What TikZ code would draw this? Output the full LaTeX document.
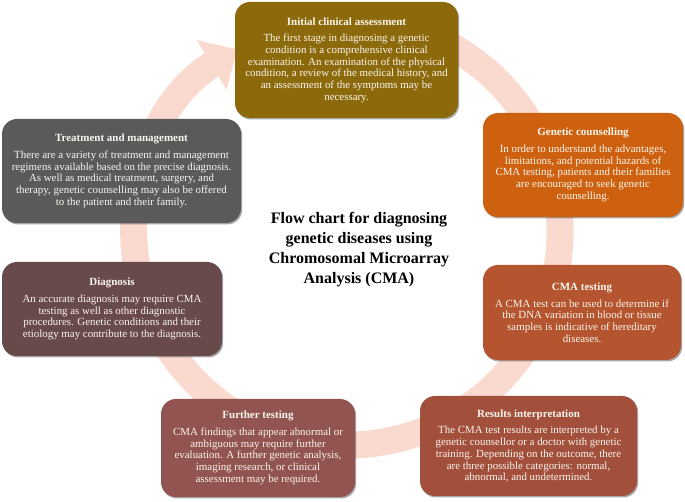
\documentclass[tikz,border=0pt]{standalone}
\usepackage{fontspec}
\setmainfont{Liberation Serif}
\usetikzlibrary{arrows.meta,shadows,calc}
\definecolor{cInit}{RGB}{140,106,12}
\definecolor{cGen}{RGB}{206,97,16}
\definecolor{cCma}{RGB}{180,85,47}
\definecolor{cRes}{RGB}{162,79,60}
\definecolor{cFur}{RGB}{146,84,80}
\definecolor{cDia}{RGB}{104,74,74}
\definecolor{cTre}{RGB}{90,90,90}
\definecolor{ringpink}{RGB}{250,217,207}
\definecolor{txtw}{RGB}{250,246,238}
\tikzset{
  stagebox/.style={rounded corners=15pt, text=txtw, align=center, inner sep=0pt,
    font=\fontsize{10.9}{11.7}\selectfont,
    drop shadow={shadow xshift=1.2pt, shadow yshift=-1.5pt, opacity=0.35, fill=black}},
  ringarrow/.style={draw=ringpink, line width=27pt, -{Triangle[width=56pt,length=30pt]}},
}
\newcommand{\stagetitle}[1]{{\fontsize{11}{12}\selectfont\bfseries #1}}
\begin{document}
\begin{tikzpicture}[x=1pt,y=1pt]
\useasboundingbox (0,0) rectangle (685,502);
\coordinate (C) at (347,270);
\coordinate (ringstart) at ($(C)+(110:213pt)$);
\draw[ringarrow] (ringstart) arc[start angle=110, end angle=-239, radius=213pt];

\node[stagebox, fill=cInit, minimum width=223pt, minimum height=116pt] (init) at (346.5,442)
 {\stagetitle{Initial clinical assessment}\\[5pt]
  The first stage in diagnosing a genetic\\
  condition is a comprehensive clinical\\
  examination. An examination of the physical\\
  condition, a review of the medical history, and\\
  an assessment of the symptoms may be\\
  necessary.};
\node[stagebox, fill=cGen, minimum width=200pt, minimum height=104pt] (gen) at (583,337)
 {\stagetitle{Genetic counselling}\\[5pt]
  In order to understand the advantages,\\
  limitations, and potential hazards of\\
  CMA testing, patients and their families\\
  are encouraged to seek genetic\\
  counselling.};
\node[stagebox, fill=cCma, minimum width=198pt, minimum height=95pt] (cma) at (582,189.5)
 {\stagetitle{CMA testing}\\[5pt]
  A CMA test can be used to determine if\\
  the DNA variation in blood or tissue\\
  samples is indicative of hereditary\\
  diseases.};
\node[stagebox, fill=cRes, minimum width=217pt, minimum height=100pt] (res) at (528.5,56)
 {\stagetitle{Results interpretation}\\[5pt]
  The CMA test results are interpreted by a\\
  genetic counsellor or a doctor with genetic\\
  training. Depending on the outcome, there\\
  are three possible categories: normal,\\
  abnormal, and undetermined.};
\node[stagebox, fill=cFur, minimum width=194pt, minimum height=98pt] (fur) at (258,54)
 {\stagetitle{Further testing}\\[5pt]
  CMA findings that appear abnormal or\\
  ambiguous may require further\\
  evaluation. A further genetic analysis,\\
  imaging research, or clinical\\
  assessment may be required.};
\node[stagebox, fill=cDia, minimum width=220pt, minimum height=94pt] (dia) at (112,193)
 {\stagetitle{Diagnosis}\\[5pt]
  An accurate diagnosis may require CMA\\
  testing as well as other diagnostic\\
  procedures. Genetic conditions and their\\
  etiology may contribute to the diagnosis.};
\node[stagebox, fill=cTre, minimum width=239pt, minimum height=104pt] (tre) at (121.5,331)
 {\stagetitle{Treatment and management}\\[5pt]
  There are a variety of treatment and management\\
  regimens available based on the precise diagnosis.\\
  As well as medical treatment, surgery, and\\
  therapy, genetic counselling may also be offered\\
  to the patient and their family.};

\node[align=center, font=\fontsize{16}{20}\selectfont\bfseries] (title) at (359,252)
 {Flow chart for diagnosing\\genetic diseases using\\Chromosomal Microarray\\Analysis (CMA)};
\end{tikzpicture}
\end{document}
